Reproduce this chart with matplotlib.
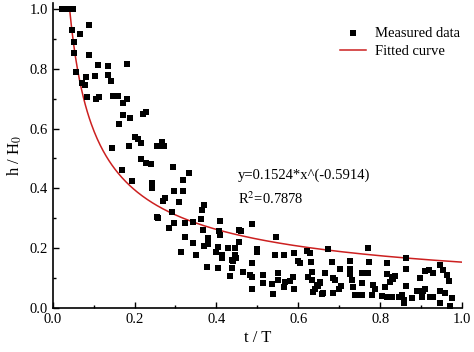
import numpy as np
import matplotlib
matplotlib.use("Agg")
import matplotlib.pyplot as plt
from matplotlib.ticker import MultipleLocator

# Measured data (t/T, h/H0)
x_meas = [0.022, 0.030, 0.041, 0.049, 0.089, 0.048, 0.068, 0.053, 0.053, 0.089,
          0.181, 0.111, 0.136, 0.056, 0.103, 0.081, 0.136, 0.142, 0.072, 0.080,
          0.085, 0.107, 0.114, 0.147, 0.160, 0.171, 0.181, 0.221, 0.228, 0.171,
          0.189, 0.162, 0.201, 0.209, 0.216, 0.146, 0.187, 0.258, 0.266, 0.272,
          0.256, 0.215, 0.229, 0.240, 0.170, 0.195, 0.242, 0.242, 0.254, 0.295,
          0.333, 0.318, 0.296, 0.318, 0.274, 0.269, 0.309, 0.370, 0.364, 0.292,
          0.257, 0.362, 0.297, 0.323, 0.344, 0.285, 0.366, 0.409, 0.406, 0.409,
          0.323, 0.342, 0.380, 0.370, 0.380, 0.405, 0.429, 0.313, 0.350, 0.399,
          0.413, 0.413, 0.445, 0.445, 0.437, 0.378, 0.405, 0.437, 0.432, 0.456,
          0.456, 0.449, 0.486, 0.459, 0.545, 0.500, 0.500, 0.441, 0.486, 0.542,
          0.566, 0.590, 0.621, 0.599, 0.604, 0.629, 0.631, 0.672, 0.464, 0.482,
          0.486, 0.513, 0.551, 0.551, 0.586, 0.580, 0.624, 0.513, 0.535, 0.565,
          0.590, 0.486, 0.539, 0.649, 0.653, 0.657, 0.645, 0.637, 0.633, 0.633,
          0.641, 0.771, 0.682, 0.726, 0.773, 0.817, 0.702, 0.726, 0.726, 0.665,
          0.755, 0.771, 0.816, 0.684, 0.690, 0.730, 0.756, 0.828, 0.824, 0.653,
          0.704, 0.700, 0.734, 0.739, 0.783, 0.787, 0.812, 0.661, 0.684, 0.743,
          0.755, 0.779, 0.804, 0.816, 0.828, 0.847, 0.862, 0.862, 0.836, 0.831,
          0.896, 0.910, 0.920, 0.930, 0.946, 0.954, 0.963, 0.969, 0.863, 0.853,
          0.857, 0.857, 0.889, 0.877, 0.902, 0.904, 0.910, 0.922, 0.928, 0.945,
          0.958, 0.975, 0.946, 0.971, 0.568]
y_meas = [1.000, 1.000, 1.000, 1.000, 0.947, 0.931, 0.917, 0.891, 0.853, 0.847,
          0.817, 0.814, 0.810, 0.788, 0.777, 0.772, 0.780, 0.758, 0.754, 0.747,
          0.706, 0.700, 0.706, 0.710, 0.710, 0.687, 0.699, 0.648, 0.654, 0.645,
          0.635, 0.615, 0.571, 0.564, 0.553, 0.536, 0.540, 0.540, 0.556, 0.540,
          0.540, 0.497, 0.486, 0.482, 0.461, 0.424, 0.419, 0.400, 0.305, 0.472,
          0.452, 0.428, 0.392, 0.391, 0.368, 0.358, 0.355, 0.344, 0.327, 0.319,
          0.299, 0.297, 0.285, 0.285, 0.288, 0.266, 0.260, 0.291, 0.257, 0.243,
          0.238, 0.217, 0.232, 0.207, 0.213, 0.204, 0.201, 0.185, 0.178, 0.187,
          0.176, 0.165, 0.199, 0.176, 0.159, 0.137, 0.134, 0.134, 0.106, 0.260,
          0.220, 0.165, 0.280, 0.258, 0.236, 0.195, 0.187, 0.155, 0.150, 0.175,
          0.175, 0.184, 0.189, 0.157, 0.150, 0.184, 0.154, 0.195, 0.120, 0.109,
          0.101, 0.111, 0.115, 0.092, 0.103, 0.090, 0.103, 0.083, 0.078, 0.070,
          0.061, 0.064, 0.045, 0.072, 0.083, 0.045, 0.075, 0.053, 0.120, 0.092,
          0.064, 0.201, 0.154, 0.157, 0.154, 0.148, 0.131, 0.128, 0.112, 0.117,
          0.117, 0.117, 0.112, 0.098, 0.092, 0.092, 0.083, 0.101, 0.087, 0.087,
          0.072, 0.064, 0.068, 0.042, 0.075, 0.064, 0.068, 0.048, 0.050, 0.042,
          0.042, 0.042, 0.039, 0.034, 0.036, 0.034, 0.165, 0.128, 0.106, 0.095,
          0.098, 0.124, 0.126, 0.117, 0.143, 0.126, 0.109, 0.090, 0.072, 0.042,
          0.025, 0.014, 0.056, 0.031, 0.034, 0.056, 0.061, 0.036, 0.034, 0.056,
          0.050, 0.031, 0.014, 0.005, 0.087]

# Fitted curve y = a * x^b
fit_a = 0.1524
fit_b = -0.5914

plt.rcParams['font.family'] = ['Liberation Serif', 'DejaVu Serif']
plt.rcParams['mathtext.fontset'] = 'stix'

fig = plt.figure(figsize=(4.74, 3.52), dpi=100)
ax = fig.add_axes([0.111, 0.126, 0.864, 0.865])

ax.scatter(x_meas, y_meas, marker='s', s=22, color='black', linewidths=0,
           label='Measured data', zorder=3)

x_start = (1.0 / fit_a) ** (1.0 / fit_b)
xf = np.linspace(x_start, 1.0, 400)
ax.plot(xf, fit_a * xf ** fit_b, color='#cc2020', lw=1.1, label='Fitted curve', zorder=2)

ax.set_xlim(0, 1.0)
ax.set_ylim(0, 1.02)
ax.xaxis.set_major_locator(MultipleLocator(0.2))
ax.xaxis.set_minor_locator(MultipleLocator(0.1))
ax.yaxis.set_major_locator(MultipleLocator(0.2))
ax.yaxis.set_minor_locator(MultipleLocator(0.1))
ax.xaxis.set_major_formatter(matplotlib.ticker.FormatStrFormatter('%.1f'))
ax.yaxis.set_major_formatter(matplotlib.ticker.FormatStrFormatter('%.1f'))
ax.tick_params(which='major', direction='in', length=4, width=1, labelsize=10.5)
ax.tick_params(which='minor', direction='in', length=2.5, width=1)
ax.spines['top'].set_visible(False)
ax.spines['right'].set_visible(False)
for s in ('left', 'bottom'):
    ax.spines[s].set_linewidth(1.2)

ax.set_xlabel('t / T', fontsize=12, labelpad=3)
ax.set_ylabel('h / H$_0$', fontsize=12, labelpad=4)

ax.text(0.453, 0.432, 'y=0.1524*x^(-0.5914)', fontsize=10.5)
ax.text(0.453, 0.348, 'R$^2$=0.7878', fontsize=10.5)

leg = ax.legend(loc='upper right', bbox_to_anchor=(1.02, 0.955), frameon=False,
                fontsize=10.5, handlelength=1.8, handletextpad=0.6, borderpad=0.2,
                labelspacing=0.3, markerscale=0.9)

fig.savefig('out.png', dpi=100)
